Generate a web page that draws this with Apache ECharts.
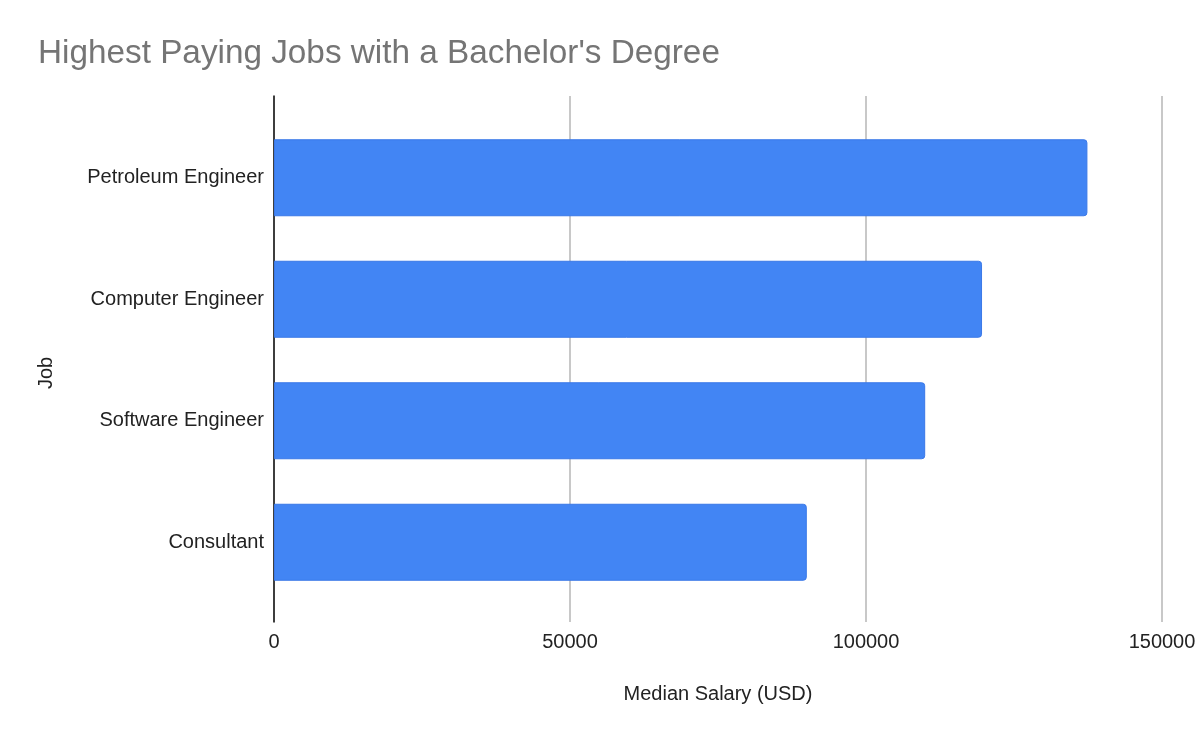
<!DOCTYPE html>
<html>
<head>
<meta charset="utf-8">
<script src="https://cdn.jsdelivr.net/npm/echarts@6/dist/echarts.min.js"></script>
<style>
    html, body { margin: 0; padding: 0; background: #fff; }
    #chart { width: 1200px; height: 741px; }
</style>
</head>
<body>
<div id="chart"></div>
<script>
// data
const jobs = ['Petroleum Engineer', 'Computer Engineer', 'Software Engineer', 'Consultant']
const salaries = [137400, 119600, 110000, 90000]
const salaryTicks = [0, 50000, 100000, 150000]

const font = 'Arial, "Liberation Sans", sans-serif'
const chart = echarts.init(document.getElementById('chart'))

const option = {
    animation: false,
    title: {
        text: 'Highest Paying Jobs with a Bachelor\'s Degree',
        left: 33,
        top: 32,
        textStyle: {
            fontFamily: font,
            fontSize: 33.3,
            fontWeight: 'normal',
            color: '#757575'
        }
    },
    grid: [
        // full plot area: gridlines, x labels, axis line
        {left: 274, right: 38, top: 96, bottom: 119},
        // inner area holding the bars
        {left: 274, right: 38, top: 117, bottom: 138}
    ],
    xAxis: [
        {
            type: 'value',
            gridIndex: 0,
            min: salaryTicks[0],
            max: salaryTicks[salaryTicks.length - 1],
            interval: salaryTicks[1] - salaryTicks[0],
            name: 'Median Salary (USD)',
            nameLocation: 'middle',
            nameGap: 62,
            nameTextStyle: {fontFamily: font, fontSize: 20, color: '#222'},
            axisLine: {show: false},
            axisTick: {show: false},
            axisLabel: {
                fontFamily: font,
                fontSize: 20,
                color: '#222',
                margin: 10,
                formatter: function (v) { return String(v) }
            },
            splitLine: {lineStyle: {color: '#c8c8c8', width: 2}}
        },
        {
            type: 'value',
            gridIndex: 1,
            min: salaryTicks[0],
            max: salaryTicks[salaryTicks.length - 1],
            show: false
        }
    ],
    yAxis: [
        {
            type: 'category',
            gridIndex: 0,
            data: [''],
            axisLine: {show: true, lineStyle: {color: '#111', width: 1.5}},
            axisTick: {show: false},
            axisLabel: {show: false},
            splitLine: {show: false}
        },
        {
            type: 'category',
            gridIndex: 1,
            inverse: true,
            data: jobs,
            name: 'Job',
            nameLocation: 'middle',
            nameRotate: 90,
            nameGap: 218,
            nameTextStyle: {fontFamily: font, fontSize: 20, color: '#222', padding: [0, 26, 0, 0]},
            axisLine: {show: false},
            axisTick: {show: false},
            axisLabel: {fontFamily: font, fontSize: 20, color: '#222', margin: 10}
        }
    ],
    series: [
        {
            type: 'bar',
            xAxisIndex: 1,
            yAxisIndex: 1,
            data: salaries,
            barWidth: 77,
            itemStyle: {
                color: '#4285f4',
                borderColor: '#3a78e8',
                borderWidth: 1,
                borderRadius: [0, 3, 3, 0]
            }
        }
    ]
}

chart.setOption(option)
</script>
</body>
</html>
